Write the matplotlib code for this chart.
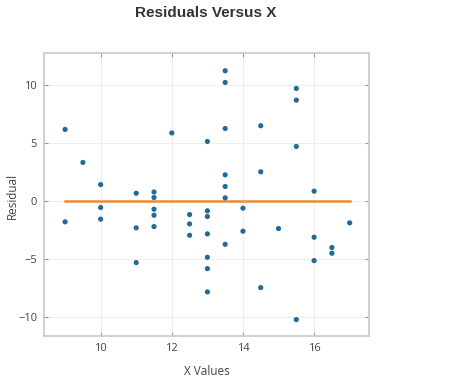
import matplotlib
matplotlib.use('Agg')
import matplotlib.pyplot as plt

# data
x_vals = [9, 9, 9.5, 10, 10, 10, 11, 11, 11,
          11.5, 11.5, 11.5, 11.5, 11.5, 12, 12.5, 12.5, 12.5,
          13, 13, 13, 13, 13, 13, 13,
          13.5, 13.5, 13.5, 13.5, 13.5, 13.5, 13.5,
          14, 14, 14.5, 14.5, 14.5, 15,
          15.5, 15.5, 15.5, 15.5, 16, 16, 16, 16.5, 16.5, 17]
residuals = [6.2, -1.78, 3.35, 1.44, -0.54, -1.55, 0.69, -2.3, -5.3,
             0.8, 0.32, -0.69, -1.21, -2.19, 5.9, -1.15, -1.96, -2.94,
             5.16, -0.83, -1.32, -2.82, -4.84, -5.82, -7.83,
             11.27, 10.26, 6.28, 2.28, 1.27, 0.29, -3.72,
             -0.6, -2.59, 6.52, 2.54, -7.46, -2.36,
             9.74, 8.73, 4.73, -10.22, 0.87, -3.11, -5.13, -4.0, -4.49, -1.87]
zero_x = [9, 17]
zero_y = [0, 0]
x_ticks = [10, 12, 14, 16]
y_ticks = [-10, -5, 0, 5, 10]

plt.rcParams['font.family'] = ['Open Sans', 'DejaVu Sans']

fig = plt.figure(figsize=(4.74, 3.84), dpi=100)
ax = fig.add_axes([0.093, 0.125, 0.686, 0.736])

ax.scatter(x_vals, residuals, s=14, color='#22699c', edgecolors='none', zorder=3)
ax.plot(zero_x, zero_y, color='#ec8a35', linewidth=1.8, zorder=2)

ax.set_xlim(8.41, 17.55)
ax.set_ylim(-11.64, 12.77)
ax.set_xticks(x_ticks)
ax.set_yticks(y_ticks)
ax.set_yticklabels([f'{v}' if v >= 0 else f'\u2212{-v}' for v in y_ticks])

ax.grid(True, color='#eeeeee', linewidth=0.8, zorder=0)
ax.set_axisbelow(True)
for s in ax.spines.values():
    s.set_color('#c8c8c8')
    s.set_linewidth(1.2)
ax.tick_params(direction='in', length=3, width=0.8, color='#999999',
               labelsize=8, labelcolor='#444444',
               top=True, right=True, pad=5)

fig.text(0.434, 0.966, 'Residuals Versus X', ha='center', va='center',
         fontsize=11, fontweight='bold', color='#333333',
         family=['Liberation Sans', 'DejaVu Sans'])
fig.text(0.436, 0.032, 'X Values', ha='center', va='center',
         fontsize=8.5, color='#444444')
fig.text(0.027, 0.49, 'Residual', ha='center', va='center', rotation=90,
         fontsize=8.5, color='#444444')

plt.savefig('out.png', dpi=100, facecolor='white')
plt.close()
